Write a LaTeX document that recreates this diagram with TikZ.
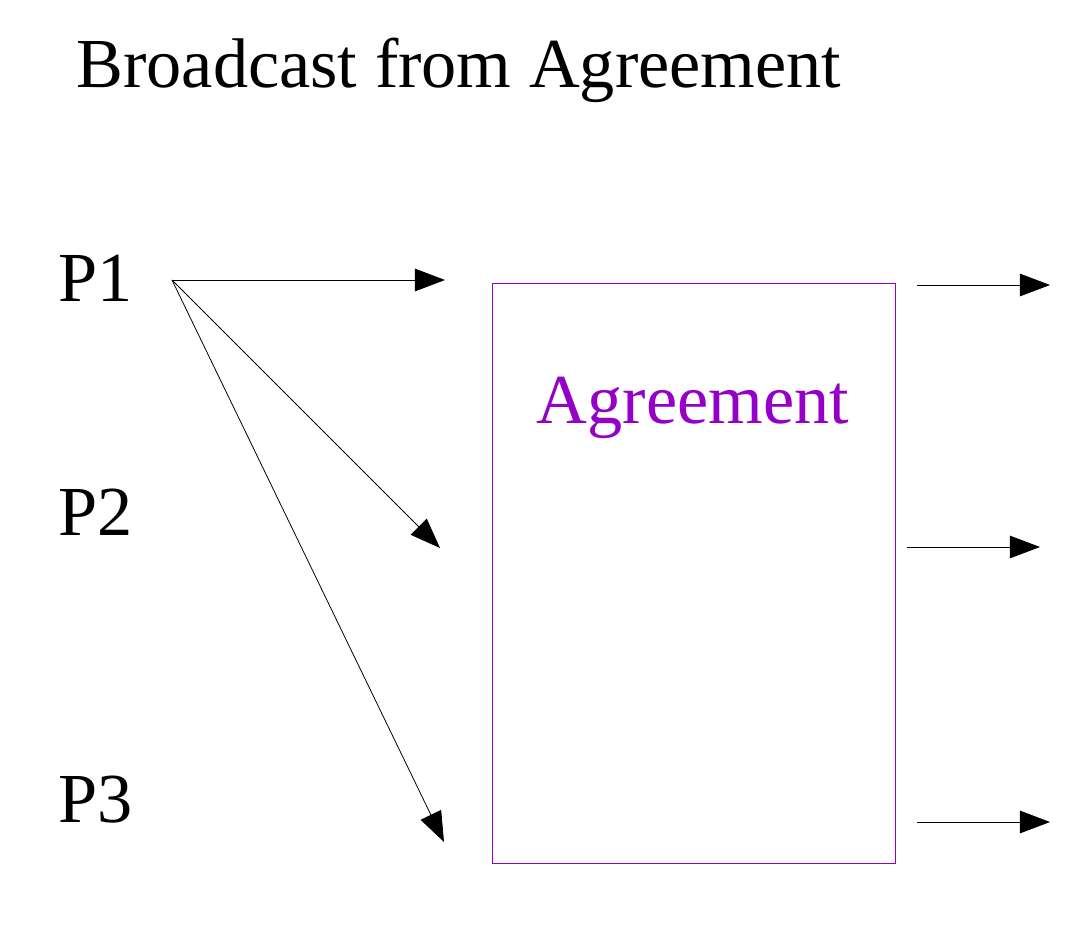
\documentclass[tikz,border=0pt]{standalone}
\usepackage{fontspec}
\setmainfont{Liberation Serif}
\usetikzlibrary{arrows.meta}
\definecolor{agree}{HTML}{9400C8}
\begin{document}
\begin{tikzpicture}[x=0.0265cm, y=-0.0265cm,
        every node/.style={font=\fontsize{53}{60}\selectfont, inner sep=0pt},
        every path/.style={-{Triangle[length=0.8cm, width=0.6cm]}, line width=0.6pt}
]
    \useasboundingbox (0,0) rectangle (1069,944);
    \node[anchor=west] (title) at (76,70) {Broadcast from Agreement};
    \node (p1) at (96,278) {P1};
    \node (p2) at (96,512) {P2};
    \node (p3) at (96,800) {P3};
    \coordinate (src) at (172,280);
    \coordinate (in1) at (445,280);
    \coordinate (in2) at (440,548);
    \coordinate (in3) at (444,842);
    \draw[-, agree] (492,283) rectangle (895,863);
    \node[text=agree] (agr) at (693,408) {Agreement};
    \draw (src) -- (in1);
    \draw (src) -- (in2);
    \draw (src) -- (in3);
    \coordinate (o1) at (917,285); \coordinate (e1) at (1050,285);
    \coordinate (o2) at (907,547); \coordinate (e2) at (1040,547);
    \coordinate (o3) at (917,822); \coordinate (e3) at (1050,822);
    \draw (o1) -- (e1);
    \draw (o2) -- (e2);
    \draw (o3) -- (e3);
\end{tikzpicture}
\end{document}
